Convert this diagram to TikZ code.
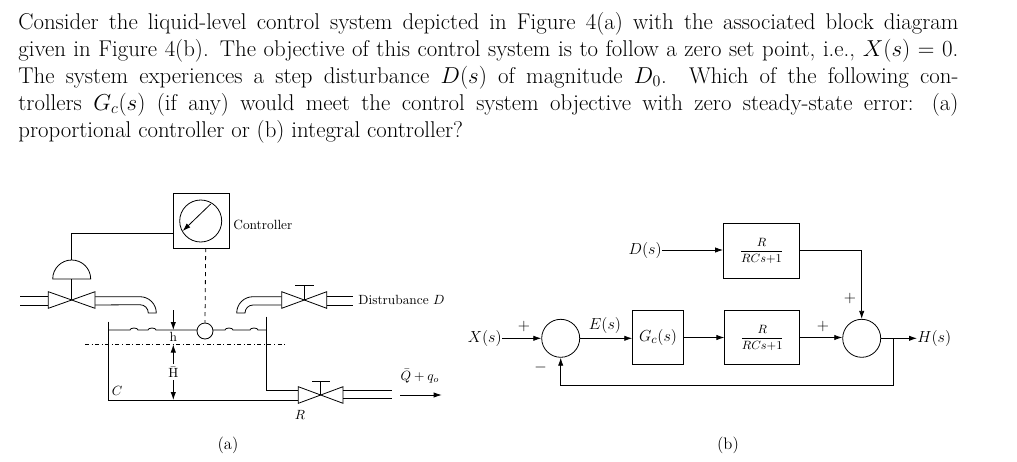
\documentclass[tikz,border=0pt]{standalone}
\usepackage{amsmath}
\usetikzlibrary{arrows.meta}
\begin{document}
\begin{tikzpicture}[x=0.75pt,y=-0.75pt,line width=0.6pt,
  lbl/.style={inner sep=0pt,font=\fontsize{10}{12}\selectfont},
  blbl/.style={inner sep=0pt,font=\fontsize{12.5}{14}\selectfont},
  frc/.style={inner sep=0pt,font=\fontsize{9.5}{11}\selectfont},
  sumn/.style={draw,circle,minimum size=28.5pt,inner sep=0pt},
  arr/.style={-{Latex[length=6pt,width=4pt]}},
  vtri/.style={draw,fill=white}]
\useasboundingbox (0,0) rectangle (1017,461);
% ---------- problem text
\node[anchor=north west,inner sep=0pt,text width=705pt,align=justify,
  font=\fontsize{17.1}{20.25}\selectfont] (txt) at (18,12) {%
Consider the liquid-level control system depicted in Figure 4(a) with the associated block diagram\linebreak
given in Figure 4(b). The objective of this control system is to follow a zero set point, i.e., $X(s)=0$.\linebreak
The system experiences a step disturbance $D(s)$ of magnitude $D_0$. Which of the following con-\linebreak
trollers $G_c(s)$ (if any) would meet the control system objective with zero steady-state error: (a)\linebreak
proportional controller or (b) integral controller?\par};
% ---------- (a) liquid-level system
\draw (173,193) rectangle (229,248);
\draw (200.7,221) circle (21);
\draw[-{Latex[length=6pt,width=4pt]}] (210.7,204) -- (182.7,231);
\node[lbl,anchor=west] (ctl) at (233,225) {Controller};
% actuator
\draw (173,233) -- (71.7,233) -- (71.7,260);
\draw (52.7,279) arc (180:360:19) -- cycle;
\draw (71.7,279) -- (71.7,300);
% inlet pipe left
\draw (20,296.7) -- (48.3,296.7) (20,305) -- (48.3,305);
\draw (95,296.7) -- (140,296.7) arc (270:360:16.3) -- (148.3,313) arc (360:270:8.3) -- (95,305);
\draw[vtri] (48.3,291.7) -- (71.7,300) -- (48.3,308.3) -- cycle;
\draw[vtri] (95,291.7) -- (71.7,300) -- (95,308.3) -- cycle;
% disturbance pipe
\draw (281.7,296.7) -- (253,296.7) arc (270:180:16.3) -- (245,313) arc (180:270:8) -- (281.7,305);
\draw[vtri] (281.7,291.7) -- (304.3,300) -- (281.7,308.3) -- cycle;
\draw[vtri] (326.7,291.7) -- (304.3,300) -- (326.7,308.3) -- cycle;
\draw (304.3,300) -- (304.3,285) (295,285) -- (313.7,285);
\draw (326.7,296.7) -- (353.3,296.7) (326.7,305) -- (353.3,305);
\node[lbl,anchor=west] (dist) at (358,300) {Distrubance $D$};
% tank
\draw (108.3,321.7) -- (108.3,400) -- (298.3,400);
\draw (266,316.7) -- (266,390) -- (298.3,390);
\draw[vtri] (298.3,386.7) -- (320.7,395) -- (298.3,403.3) -- cycle;
\draw[vtri] (343,386.7) -- (320.7,395) -- (343,403.3) -- cycle;
\draw (320.7,395) -- (320.7,381) (312,381) -- (330,381);
\draw (343,390.7) -- (391.7,390.7) (343,398.3) -- (391.7,398.3);
\coordinate (o1) at (400,395); \coordinate (o2) at (441.7,395);
\draw[arr] (o1) -- (o2);
\node[lbl] (q) at (420,376) {$\bar{Q}+q_o$};
\node[lbl] (r) at (300,415) {$R$};
\node[lbl] (c) at (117,391) {$C$};
% water surface with ripples
\draw (108.3,330) -- (130,330) arc (180:360:4 and 2) -- (148,330) arc (180:360:4 and 2) -- (197,330);
\draw (213,330) -- (225,330) arc (180:360:4 and 2) -- (250,330) arc (180:360:4 and 2) -- (266,330);
\node[draw,circle,minimum size=12pt,inner sep=0pt] (fl) at (205,331) {};
\draw[dashed] (205.7,248) -- (fl.north);
\draw[dash dot] (85,344) -- (285,344);
% h, H marks
\draw[arr] (173.3,310) -- (173.3,330);
\node[lbl] (h) at (173.3,337) {h};
\draw[arr] (173.3,364) -- (173.3,344.5);
\node[lbl] (HH) at (173.3,372) {$\bar{\mathrm{H}}$};
\draw[arr] (173.3,380) -- (173.3,400);
\node[font=\fontsize{12.5}{14}\selectfont] (ca) at (228,445) {(a)};
% ---------- (b) block diagram
\node[draw,minimum width=57pt,minimum height=41pt,frc] (bt) at (761.5,250.8) {$\dfrac{R}{RCs{+}1}$};
\node[draw,minimum width=56pt,minimum height=41pt,frc] (bp) at (762.2,337.5) {$\dfrac{R}{RCs{+}1}$};
\node[draw,minimum width=38pt,minimum height=41pt,inner sep=0pt,blbl] (gc) at (658,337.5) {$G_c(s)$};
\node[sumn] (s1) at (560.7,338.3) {};
\node[sumn] (s2) at (861.7,338.3) {};
\node[blbl,anchor=east] (x) at (502,338.3) {$X(s)$};
\node[blbl,anchor=east] (d) at (662,250) {$D(s)$};
\node[blbl,anchor=west] (hs) at (917,338.3) {$H(s)$};
\draw[arr] (x.east) -- (s1.west);
\draw[arr] (d.east) -- (d.east-|bt.west);
\draw[arr] (s1.east) -- (s1.east-|gc.west);
\draw[arr] (gc.east) -- (gc.east-|bp.west);
\draw[arr] (bp.east) -- (bp.east-|s2.west);
\draw[arr] (bt.east) -| (s2.north);
\draw[arr] (s2.east) -- (hs.west);
\coordinate (br) at (893.3,338.3);
\draw[arr] (br) -- (893.3,385) -| (s1.south);
\node[blbl] (es) at (605,325) {$E(s)$};
\node[blbl] (p1) at (524,326) {$+$};
\node[blbl] (m1) at (540.7,367) {$-$};
\node[blbl] (p2) at (823,326) {$+$};
\node[blbl] (p3) at (850,298) {$+$};
\node[font=\fontsize{12.5}{14}\selectfont] (cb) at (728,445) {(b)};
\end{tikzpicture}
\end{document}
